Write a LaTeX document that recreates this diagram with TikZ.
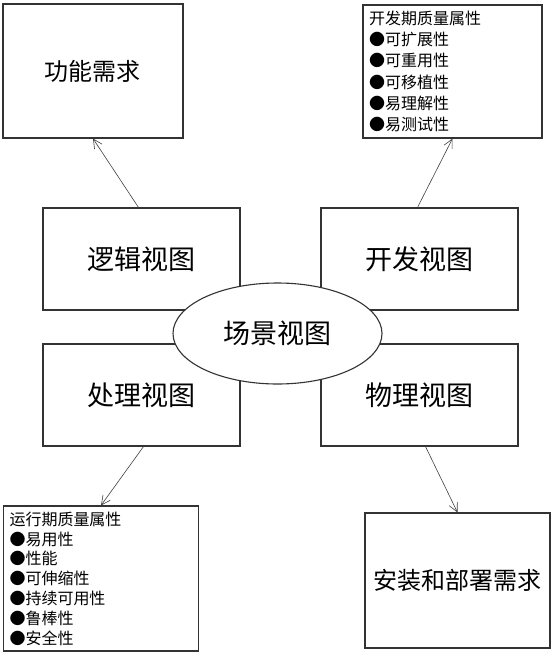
\documentclass[tikz,border=0pt]{standalone}
\usepackage{fontspec}
\usepackage{tikz}
\usetikzlibrary{shapes.geometric,arrows.meta}
\newfontfamily\cjk{Noto Sans CJK SC}

\begin{document}
\begin{tikzpicture}[x=1pt,y=1pt]
						\tikzstyle{every node}+=[inner sep=0pt,font=\cjk]
						\tikzstyle{viewbox}=[draw=black!80,line width=1.1pt,minimum width=197pt,minimum height=102pt,font=\cjk\fontsize{27}{30}\selectfont]
						\tikzstyle{needbox}=[draw=black!80,line width=1.1pt,font=\cjk\fontsize{24}{28}\selectfont]
						\tikzstyle{listbox}=[draw=black!80,line width=1.1pt,inner xsep=6pt,align=left]
						\tikzstyle{link}=[black!75,line width=0.6pt,-{Straight Barb[length=9pt,width=9pt]}]
						\useasboundingbox (0,0) rectangle (553,-654);
						\node [needbox,minimum width=180pt,minimum height=134pt] (func) at (93,-71) {功能需求};
						\node [listbox,text width=167pt,minimum height=133pt,font=\cjk\fontsize{16}{21.2}\selectfont] (devq) at (452.5,-71.5) {开发期质量属性\\●可扩展性\\●可重用性\\●可移植性\\●易理解性\\●易测试性};
						\node [viewbox] (logic) at (141.5,-259) {逻辑视图};
						\node [viewbox] (dev) at (419.5,-259) {开发视图};
						\node [viewbox] (proc) at (141.5,-395) {处理视图};
						\node [viewbox] (phys) at (419.5,-395) {物理视图};
						\node [ellipse,draw=black!80,line width=1.1pt,fill=white,minimum width=209pt,minimum height=101pt,font=\cjk\fontsize{27}{30}\selectfont] (scene) at (277.5,-333.5) {场景视图};
						\node [listbox,text width=183pt,minimum height=145pt,font=\cjk\fontsize{16}{19.8}\selectfont] (runq) at (101,-578.5) {运行期质量属性\\●易用性\\●性能\\●可伸缩性\\●持续可用性\\●鲁棒性\\●安全性};
						\node [needbox,minimum width=185pt,minimum height=135pt] (inst) at (457.5,-580.5) {安装和部署需求};
						\draw [link] ([xshift=-3pt]logic.north) -- (func.south);
						\draw [link] ([xshift=-2pt]dev.north) -- (devq.south);
						\draw [link] ([xshift=2pt]proc.south) -- (runq.north);
						\draw [link] ([xshift=6pt]phys.south) -- (inst.north);
					\end{tikzpicture}
\end{document}
